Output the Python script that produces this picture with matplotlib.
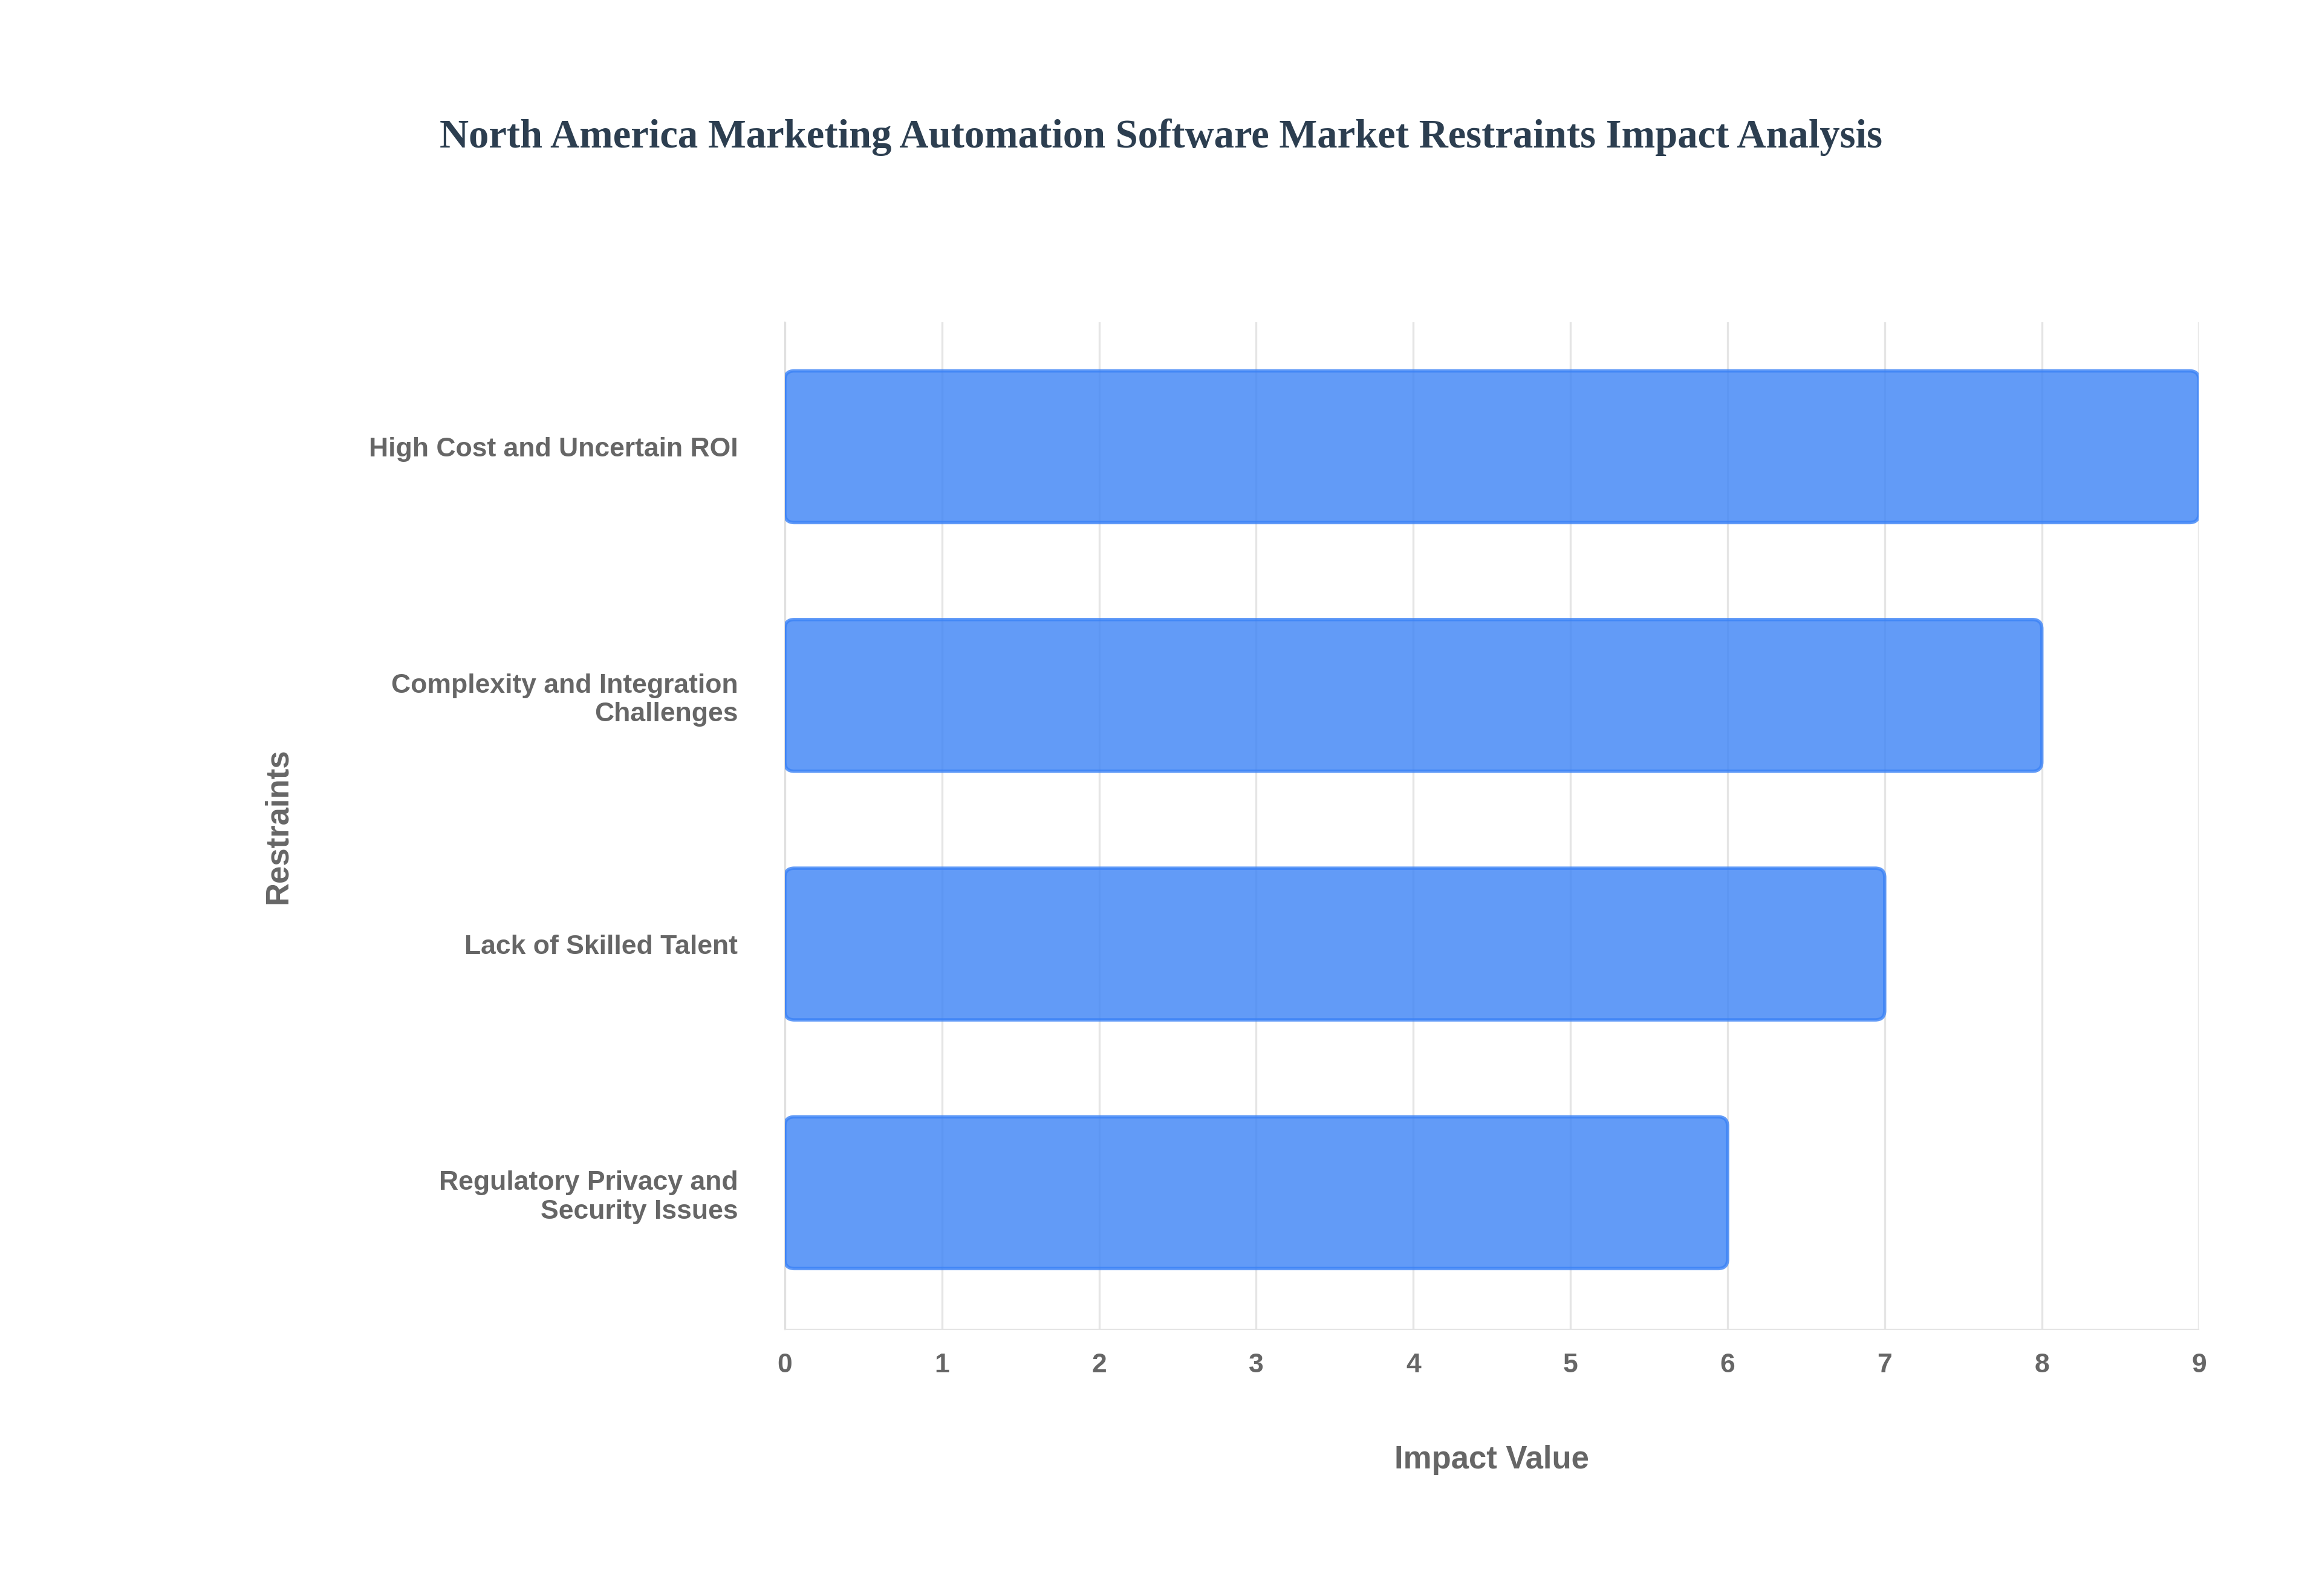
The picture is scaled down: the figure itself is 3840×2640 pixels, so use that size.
import matplotlib
matplotlib.use("Agg")
import matplotlib.pyplot as plt
from matplotlib.patches import FancyBboxPatch

categories = ["High Cost and Uncertain ROI", "Complexity and Integration\nChallenges",
              "Lack of Skilled Talent", "Regulatory Privacy and\nSecurity Issues"]
values = [9, 8, 7, 6]
xticks = list(range(0, 10))

fig = plt.figure(figsize=(19.2, 13.2), dpi=200)
ax = fig.add_axes([0.338, 0.167, 0.609, 0.631])
ypos = list(range(len(categories)))[::-1]
h = 0.61
for y, v in zip(ypos, values):
    p = FancyBboxPatch((0, y - h / 2), v, h, boxstyle="round,pad=0,rounding_size=0.06",
                       mutation_aspect=0.61, facecolor="#3b82f6", alpha=0.8,
                       edgecolor="#3b82f6", linewidth=2, zorder=3)
    ax.add_patch(p)
ax.set_xlim(0, 9)
ax.set_ylim(-0.55, 3.5)
ax.set_xticks(xticks)
ax.set_yticks(ypos)
ax.set_yticklabels(categories, ha="right", fontsize=16, fontweight="bold",
                   color="#666666", family="Liberation Sans")
for t in ax.get_xticklabels():
    t.set_fontsize(16); t.set_fontweight("bold"); t.set_color("#666666"); t.set_family("Liberation Sans")
ax.tick_params(length=0, pad=14)
ax.tick_params(axis="y", pad=28)
ax.grid(axis="x", color="#e5e5e5", linewidth=1.2, zorder=0)
for s in ["top", "right"]:
    ax.spines[s].set_visible(False)
ax.spines["left"].set_color("#dddddd")
ax.spines["bottom"].set_color("#e5e5e5")
ax.set_xlabel("Impact Value", fontsize=19, fontweight="bold", color="#666666",
              family="Liberation Sans", labelpad=40)
ax.set_ylabel("Restraints", fontsize=19, fontweight="bold", color="#666666",
              family="Liberation Sans", labelpad=45)
fig.text(0.5, 0.914, "North America Marketing Automation Software Market Restraints Impact Analysis",
         ha="center", va="center", fontsize=24, fontweight="bold", color="#2c3e50",
         family="Liberation Serif")
fig.savefig("out.png", dpi=200, facecolor="white")
